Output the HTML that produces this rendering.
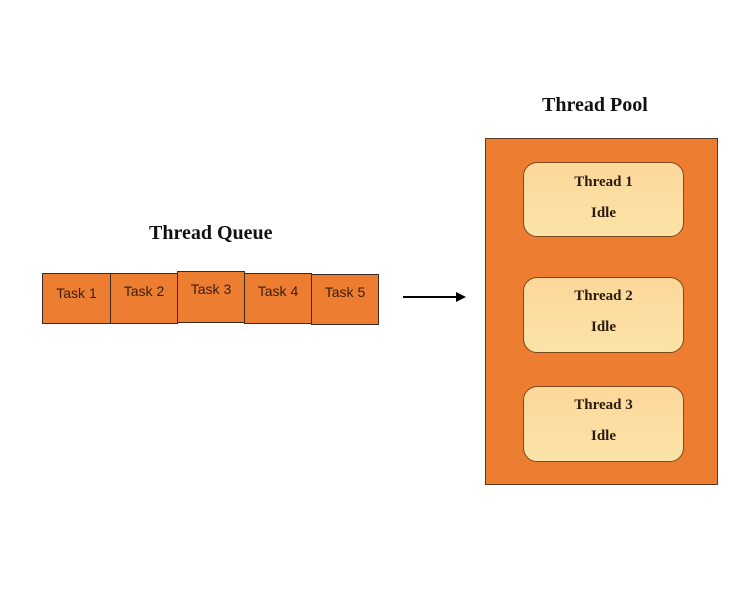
<!DOCTYPE html>
<html><head><style>
body{margin:0;width:750px;height:608px;background:#fff;position:relative;overflow:hidden}
.a{position:absolute;box-sizing:border-box}
.t{background:#ed7d31;border:1.5px solid #3a2a20;font:14px "Liberation Sans",sans-serif;color:#3a1e0c;text-align:center}
.h{font:bold 20px "Liberation Serif",serif;color:#111}
.th{background:linear-gradient(#fdd89a,#fbe3a8);border:1.5px solid #7a4a1e;border-radius:14px;font:bold 15px "Liberation Serif",serif;color:#2a1a10;text-align:center}
</style></head><body>
<div class="a h" style="left:149px;top:222px">Thread Queue</div>
<div class="a h" style="left:542px;top:94px">Thread Pool</div>
<div class="a t" style="left:42px;top:273px;width:69px;height:51px;padding-top:11px">Task 1</div>
<div class="a t" style="left:110px;top:273px;width:68px;height:51px;padding-top:9px">Task 2</div>
<div class="a t" style="left:177px;top:271px;width:68px;height:52px;padding-top:9px">Task 3</div>
<div class="a t" style="left:244px;top:273px;width:68px;height:51px;padding-top:9px">Task 4</div>
<div class="a t" style="left:311px;top:274px;width:68px;height:51px;padding-top:9px">Task 5</div>
<svg class="a" style="left:0;top:0" width="750" height="608"><line x1="403" y1="297" x2="458" y2="297" stroke="#000" stroke-width="2"/><polygon points="466,297 456,292 456,302" fill="#000"/></svg>
<div class="a" style="left:485px;top:138px;width:233px;height:347px;background:#ed7d31;border:1px solid #5a3a20"></div>
<div class="a th" style="left:523px;top:162px;width:161px;height:75px;padding-top:4px;line-height:31px">Thread 1<br>Idle</div>
<div class="a th" style="left:523px;top:277px;width:161px;height:76px;padding-top:3px;line-height:31px">Thread 2<br>Idle</div>
<div class="a th" style="left:523px;top:386px;width:161px;height:76px;padding-top:3px;line-height:31px">Thread 3<br>Idle</div>
</body></html>
